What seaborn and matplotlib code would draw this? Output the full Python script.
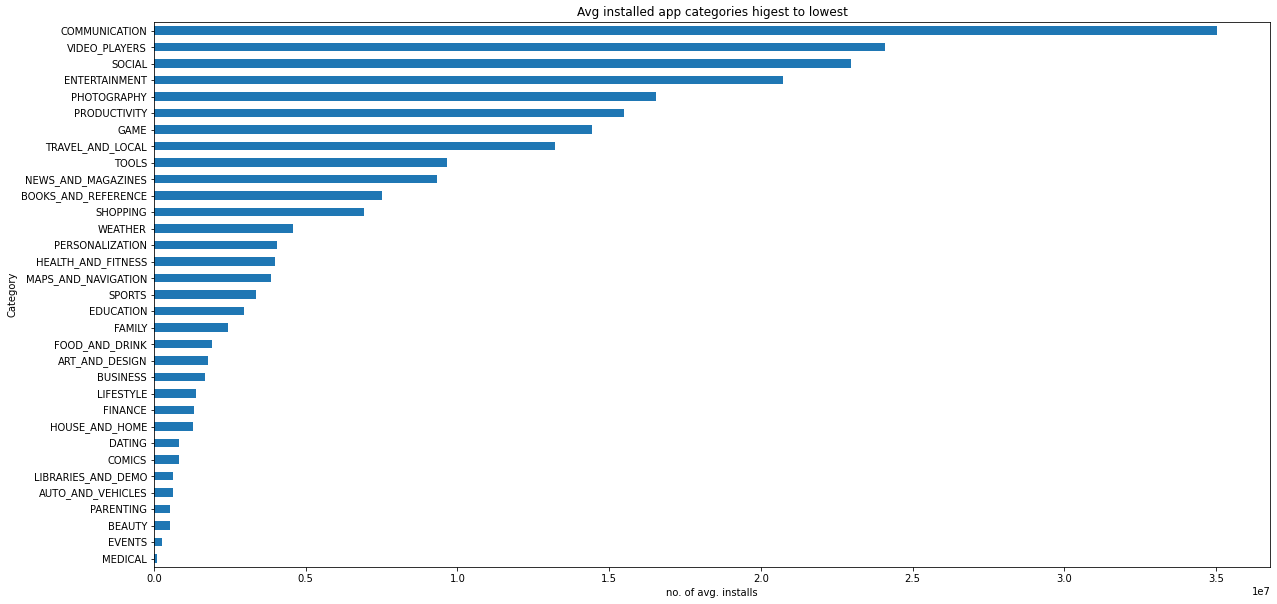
import matplotlib
matplotlib.use("Agg")
import matplotlib.pyplot as plt
import seaborn as sns
import pandas as pd

categories = ["COMMUNICATION","VIDEO_PLAYERS","SOCIAL","ENTERTAINMENT","PHOTOGRAPHY","PRODUCTIVITY","GAME","TRAVEL_AND_LOCAL","TOOLS","NEWS_AND_MAGAZINES","BOOKS_AND_REFERENCE","SHOPPING","WEATHER","PERSONALIZATION","HEALTH_AND_FITNESS","MAPS_AND_NAVIGATION","SPORTS","EDUCATION","FAMILY","FOOD_AND_DRINK","ART_AND_DESIGN","BUSINESS","LIFESTYLE","FINANCE","HOUSE_AND_HOME","DATING","COMICS","LIBRARIES_AND_DEMO","AUTO_AND_VEHICLES","PARENTING","BEAUTY","EVENTS","MEDICAL"]
installs = [35.03,24.08,22.97,20.73,16.55,15.48,14.45,13.21,9.67,9.32,7.51,6.91,4.57,4.07,3.98,3.85,3.37,2.96,2.43,1.90,1.77,1.68,1.38,1.31,1.30,0.81,0.81,0.62,0.62,0.52,0.52,0.25,0.10]
installs = [v*1e6 for v in installs]
df = pd.DataFrame({"Category":categories,"installs":installs})

sns.set_style("ticks")
plt.rcParams["font.family"]="DejaVu Sans"
fig, ax = plt.subplots(figsize=(1277/72,604/72),dpi=72)
fig.patch.set_facecolor("white")
sns.barplot(data=df,y="Category",x="installs",color="#1f77b4",saturation=1,width=0.5,ax=ax,orient="h",linewidth=0)
ax.set_ylim(len(categories)-0.5,-0.5)
ax.set_xlim(0,36.79e6)
ax.set_title("Avg installed app categories higest to lowest",fontsize=12,pad=6,color="black")
ax.set_xlabel("no. of avg. installs",fontsize=10,labelpad=4,color="black")
ax.set_ylabel("Category",fontsize=10,labelpad=4,color="black")
ax.tick_params(labelsize=10,length=3.5,width=0.8,pad=3.5,colors="black")
for s in ax.spines.values():
    s.set_visible(True); s.set_linewidth(0.8); s.set_color("black")
ax.xaxis.get_offset_text().set_fontsize(10)
fig.subplots_adjust(left=154.0/1277,right=1270.3/1277,top=1-22.3/604,bottom=1-566.8/604)
fig.savefig("out.png",dpi=72)
